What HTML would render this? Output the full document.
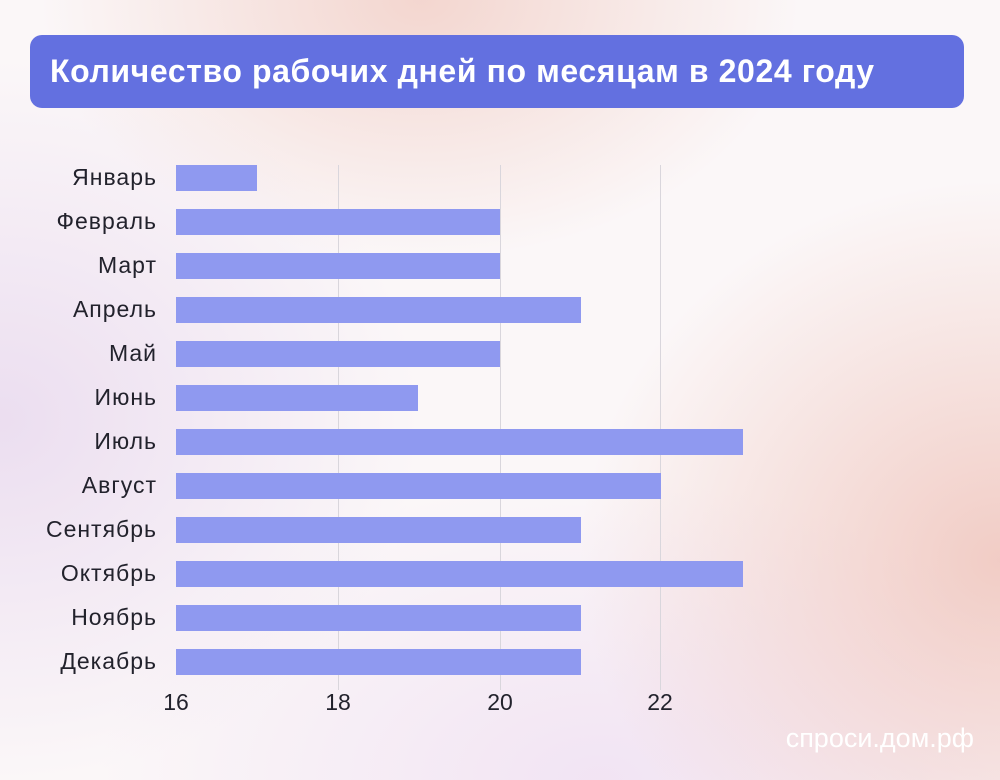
<!DOCTYPE html>
<html><head><meta charset="utf-8">
<style>
html,body{margin:0;padding:0}
body{width:1000px;height:780px;position:relative;overflow:hidden;font-family:"Liberation Sans","DejaVu Sans",sans-serif;
background:
radial-gradient(ellipse 420px 380px at 1000px 560px, rgba(238,190,180,0.75), rgba(238,190,180,0) 100%),
radial-gradient(ellipse 380px 260px at 420px 0px, rgba(240,200,190,0.7), rgba(240,200,190,0) 100%),
radial-gradient(ellipse 420px 360px at 0px 420px, rgba(225,205,235,0.6), rgba(225,205,235,0) 100%),
radial-gradient(ellipse 500px 300px at 600px 780px, rgba(235,215,240,0.6), rgba(235,215,240,0) 100%),
#fbf7f8;}
.title{position:absolute;left:30px;top:35px;width:934px;height:73px;background:#6370e0;border-radius:12px;color:#fff;font-weight:bold;font-size:32px;letter-spacing:0.6px;line-height:73px;padding-left:20px;box-sizing:border-box;white-space:nowrap}
.grid{position:absolute;top:165px;width:1px;height:525px;background:#d9d6dc}
.lbl{position:absolute;right:843px;font-size:23px;letter-spacing:1px;color:#22222c;text-align:right;white-space:nowrap;margin-top:-1px}
.bar{position:absolute;left:176px;height:26px;background:#8f99f0}
.tick{position:absolute;top:689px;font-size:23px;color:#22222c;width:60px;text-align:center}
.wm{position:absolute;right:26px;top:723px;color:#fff;font-size:27px}
</style></head><body>
<div class="title">Количество рабочих дней по месяцам в 2024 году</div>
<div class="grid" style="left:338px"></div>
<div class="grid" style="left:500px"></div>
<div class="grid" style="left:660px"></div>

<div class="lbl" style="top:165px">Январь</div><div class="bar" style="top:165px;width:81px"></div>
<div class="lbl" style="top:209px">Февраль</div><div class="bar" style="top:209px;width:324px"></div>
<div class="lbl" style="top:253px">Март</div><div class="bar" style="top:253px;width:324px"></div>
<div class="lbl" style="top:297px">Апрель</div><div class="bar" style="top:297px;width:405px"></div>
<div class="lbl" style="top:341px">Май</div><div class="bar" style="top:341px;width:324px"></div>
<div class="lbl" style="top:385px">Июнь</div><div class="bar" style="top:385px;width:242px"></div>
<div class="lbl" style="top:429px">Июль</div><div class="bar" style="top:429px;width:567px"></div>
<div class="lbl" style="top:473px">Август</div><div class="bar" style="top:473px;width:485px"></div>
<div class="lbl" style="top:517px">Сентябрь</div><div class="bar" style="top:517px;width:405px"></div>
<div class="lbl" style="top:561px">Октябрь</div><div class="bar" style="top:561px;width:567px"></div>
<div class="lbl" style="top:605px">Ноябрь</div><div class="bar" style="top:605px;width:405px"></div>
<div class="lbl" style="top:649px">Декабрь</div><div class="bar" style="top:649px;width:405px"></div>

<div class="tick" style="left:146px">16</div>
<div class="tick" style="left:308px">18</div>
<div class="tick" style="left:470px">20</div>
<div class="tick" style="left:630px">22</div>
<div class="wm">спроси.дом.рф</div>
</body></html>
